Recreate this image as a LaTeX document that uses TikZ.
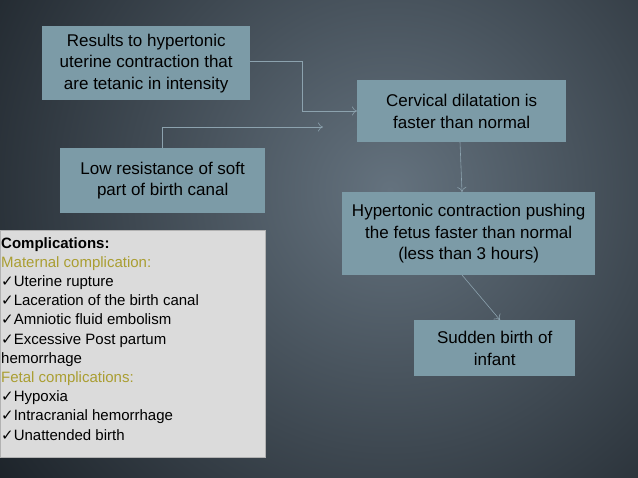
\documentclass[tikz,border=0pt]{standalone}
\usepackage{fontspec}
\setmainfont{Liberation Sans}
\newfontfamily\dejavu{DejaVu Sans}
\usetikzlibrary{arrows.meta,shadings}
\definecolor{boxc}{RGB}{124,155,167}
\definecolor{linec}{RGB}{140,162,174}
\definecolor{olive}{RGB}{170,158,50}
\definecolor{bgin}{RGB}{100,114,126}
\definecolor{bgout}{RGB}{24,30,36}
\newcommand{\ck}{{\dejavu\bfseries\char"2713}}
\tikzset{
  fbox/.style={fill=boxc,draw=none,text=black,align=center,font=\fontsize{17}{21.5}\selectfont,inner sep=0pt},
  conn/.style={draw=linec,line width=0.6pt,-{To[length=5pt,width=9pt]}},
}
\begin{document}
\begin{tikzpicture}[x=1pt,y=-1pt]
\useasboundingbox (0,0) rectangle (638,478);
\begin{scope}
\clip (0,0) rectangle (638,478);
\shade[inner color=bgin,outer color=bgout] (390,190) circle (520);
\end{scope}
\node[fbox,minimum width=208,minimum height=74,anchor=north west] (a) at (42,26) {Results to hypertonic\\uterine contraction that\\are tetanic in intensity};
\node[fbox,minimum width=209,minimum height=62,anchor=north west] (b) at (357,80) {Cervical dilatation is\\faster than normal};
\node[fbox,minimum width=205,minimum height=65,anchor=north west] (c) at (60,148) {Low resistance of soft\\part of birth canal};
\node[fbox,minimum width=253,minimum height=83,anchor=north west] (d) at (342,192) {Hypertonic contraction pushing\\the fetus faster than normal\\(less than 3 hours)};
\node[fbox,minimum width=161,minimum height=56,anchor=north west] (e) at (414,320) {Sudden birth of\\infant};
\node[fill=black!14,draw=black!30,minimum width=265,minimum height=227,anchor=north west,inner sep=0pt] (f) at (0,230) {};
\node[anchor=north west,align=left,inner sep=0pt,font=\fontsize{15}{19.2}\selectfont] (ft) at (1,237) {\textbf{Complications:}\\
\textcolor{olive}{Maternal complication:}\\
\ck Uterine rupture\\
\ck Laceration of the birth canal\\
\ck Amniotic fluid embolism\\
\ck Excessive Post partum\\
hemorrhage\\
\textcolor{olive}{Fetal complications:}\\
\ck Hypoxia\\
\ck Intracranial hemorrhage\\
\ck Unattended birth};
\coordinate (k1) at (302,61);
\coordinate (k2) at (302,111);
\draw[conn] (a.east |- k1) -- (k1) -- (k2) -- (b.west |- k2);
\coordinate (k3) at (162,127);
\coordinate (k4) at (323,127);
\draw[conn] (c.north -| k3) -- (k3) -- (k4);
\draw[conn] (460,142) -- (462,192);
\draw[conn] (462,275) -- (500,320);
\end{tikzpicture}
\end{document}
